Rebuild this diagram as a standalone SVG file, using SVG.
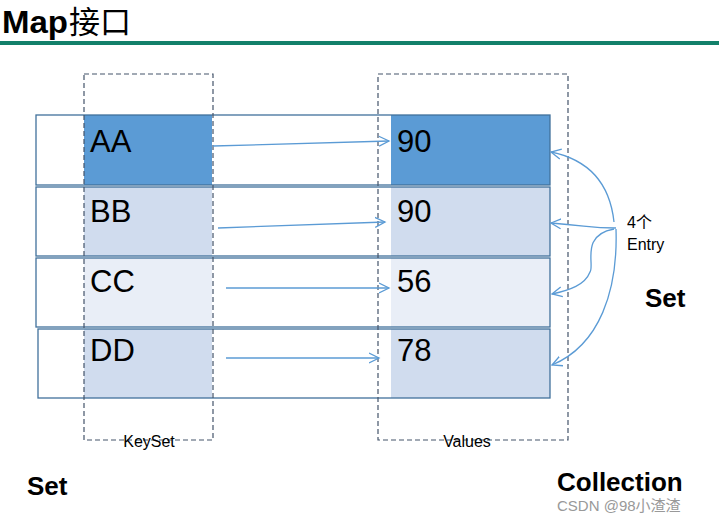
<svg xmlns="http://www.w3.org/2000/svg" width="719" height="521" viewBox="0 0 719 521">
<defs>
<style>
.t{font-family:"Liberation Sans",Arial,sans-serif}
.cell{font-family:"Liberation Sans",Arial,sans-serif;font-size:31px;fill:#000}
.row{fill:none;stroke:#41719c;stroke-width:1.3}
.dash{fill:none;stroke:#44546a;stroke-width:1.2;stroke-dasharray:5,3}
.ln{fill:none;stroke:#5b9bd5;stroke-width:1.3}
.big{font-family:"Liberation Sans",Arial,sans-serif;font-size:26px;font-weight:bold}
</style>
<marker id="a" markerWidth="12" markerHeight="12" refX="10" refY="6" orient="auto" markerUnits="userSpaceOnUse">
<path d="M0,1 L10,6 L0,11" fill="none" stroke="#5b9bd5" stroke-width="1.3"/>
</marker>
</defs>
<rect width="719" height="521" fill="#fff"/>
<text class="t" x="2" y="33" font-size="31" font-weight="bold" textLength="66" lengthAdjust="spacingAndGlyphs">Map</text>
<text x="69" y="33" font-size="31" font-family="'Noto Sans CJK SC',sans-serif">接口</text>
<rect x="0" y="41" width="719" height="4" fill="#12806a"/>
<g id="rowAA"><rect x="84" y="115" width="128" height="70" fill="#5b9bd5"/><rect x="391" y="115" width="159" height="70" fill="#5b9bd5"/><rect class="row" x="36" y="115" width="514" height="70"/><text class="cell" x="90" y="152">AA</text><text class="cell" x="397" y="152">90</text></g>
<g id="rowBB"><rect x="84" y="187" width="128" height="69" fill="#d0dcee"/><rect x="391" y="187" width="159" height="69" fill="#d0dcee"/><rect class="row" x="36" y="187" width="514" height="69"/><text class="cell" x="90" y="222">BB</text><text class="cell" x="397" y="222">90</text></g>
<g id="rowCC"><rect x="84" y="258" width="128" height="69" fill="#e9eef7"/><rect x="391" y="258" width="159" height="69" fill="#e9eef7"/><rect class="row" x="36" y="258" width="514" height="69"/><text class="cell" x="90" y="292">CC</text><text class="cell" x="397" y="292">56</text></g>
<g id="rowDD"><rect x="84" y="329" width="128" height="69" fill="#d0dcee"/><rect x="391" y="329" width="159" height="69" fill="#d0dcee"/><rect class="row" x="38" y="329" width="512" height="69"/><text class="cell" x="90" y="361">DD</text><text class="cell" x="397" y="361">78</text></g>
<g id="keyset"><rect class="dash" x="84" y="74" width="129" height="366"/><text class="t" x="149" y="447" font-size="16" text-anchor="middle">KeySet</text></g>
<g id="values"><rect class="dash" x="378" y="74" width="190" height="366"/><text class="t" x="467" y="447" font-size="16" text-anchor="middle">Values</text></g>
<g id="connectors">
<line class="ln" x1="213" y1="146" x2="389" y2="141" marker-end="url(#a)"/>
<line class="ln" x1="218" y1="228" x2="385" y2="222" marker-end="url(#a)"/>
<line class="ln" x1="226" y1="288" x2="389" y2="288" marker-end="url(#a)"/>
<line class="ln" x1="226" y1="358" x2="379" y2="358" marker-end="url(#a)"/>
<path class="ln" d="M614,222 C610,185 590,160 551,152" marker-end="url(#a)"/>
<path class="ln" d="M616,228 C590,228 590,226 551,223" marker-end="url(#a)"/>
<path class="ln" d="M614,229 C580,235 595,265 590,272 C585,285 570,290 552,294" marker-end="url(#a)"/>
<path class="ln" d="M616,229 C618,290 600,345 552,365" marker-end="url(#a)"/>
</g>
<text class="t" x="627" y="228" font-size="16">4<tspan font-family="'Noto Sans CJK SC',sans-serif">个</tspan></text>
<text class="t" x="627" y="250" font-size="16">Entry</text>
<text class="big" x="645" y="307">Set</text>
<text class="big" x="27" y="495">Set</text>
<text class="big" x="557" y="491" font-size="27">Collection</text>
<text class="t" x="557" y="511" font-size="15" fill="#999">CSDN @98<tspan font-family="'Noto Sans CJK SC',sans-serif">小渣渣</tspan></text>
</svg>
